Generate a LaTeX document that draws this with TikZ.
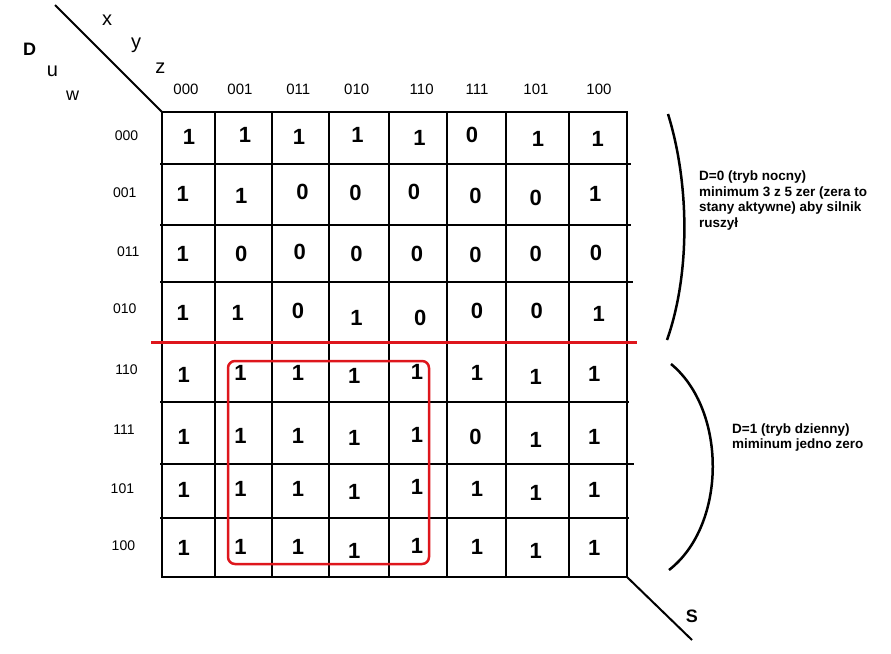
\documentclass[tikz,border=0pt]{standalone}
\usepackage{fontspec}
\setmainfont{Liberation Sans}
\definecolor{kred}{RGB}{222,22,28}
\tikzset{
  gridline/.style={line width=2pt, black},
  cellval/.style={font=\fontsize{22}{26}\selectfont\bfseries, inner sep=0pt},
  colhead/.style={font=\fontsize{15}{18}\selectfont, inner sep=0pt},
  rowhead/.style={font=\fontsize{14}{17}\selectfont, inner sep=0pt},
  varlabel/.style={font=\fontsize{20}{24}\selectfont, inner sep=0pt, anchor=base},
  boldlabel/.style={font=\fontsize{18}{22}\selectfont\bfseries, inner sep=0pt, anchor=base},
  note/.style={font=\fontsize{13.5}{15.5}\selectfont\bfseries, align=left, inner sep=0pt, anchor=base west},
  bracketline/.style={line width=2.5pt, black},
  redline/.style={line width=3pt, kred},
  redbox/.style={line width=2.5pt, kred, rounded corners=7pt},
}
\begin{document}
\begin{tikzpicture}[x=1pt, y=-1pt]
\useasboundingbox[fill=white] (0,0) rectangle (891,653);

% corners
\coordinate (tl) at (162,112);
\coordinate (br) at (627,577);
\coordinate (diagA) at (55,5);
\coordinate (diagB) at (692,640);

% grid
\draw[gridline] (tl) rectangle (br);
\foreach \gx in {215,272,329,389,447,506,569}
  \draw[gridline] (\gx,112) -- (\gx,577);
\foreach \gy/\ge in {164/631,225/631,282/633,402/629,464/634,518/629}
  \draw[gridline] (160,\gy) -- (\ge,\gy);
\draw[gridline] (160,342) -- (627,342);

% diagonals
\draw[gridline] (diagA) -- (tl);
\draw[gridline] (br) -- (diagB);

% variable labels
\node[varlabel] (lx) at (107,25.7) {x};
\node[varlabel] (ly) at (136,48.3) {y};
\node[varlabel] (lz) at (160.3,73.3) {z};
\node[boldlabel] (lD) at (29.7,55) {D};
\node[varlabel] (lu) at (52.5,76.7) {u};
\node[varlabel, font=\fontsize{18}{22}\selectfont] (lw) at (72.5,100) {w};
\node[boldlabel] (lS) at (691.8,622) {S};

% column headers
\foreach \t/\hx [count=\i] in {000/186,001/240,011/298.3,010/356.7,110/421.7,111/477,101/536,100/599}
  \node[colhead] (h\i) at (\hx,89.3) {\t};

% row headers
\foreach \t/\hx/\hy [count=\i] in {000/126.5/135.7,001/124.8/192.3,011/128.2/251.7,010/124.8/308.3,110/126.5/370,111/124.1/429.3,101/122.4/488.3,100/123.4/546}
  \node[rowhead] (r\i) at (\hx,\hy) {\t};

% cell values
\foreach \v/\cx/\cy [count=\i] in {
  1/188.9/136.7, 1/245/135, 1/299/136.7, 1/357.6/135, 1/419.6/138.3, 0/472/135, 1/538/139.3, 1/597.7/139.3,
  1/182.7/194.3, 1/241.2/196, 0/302.5/191.7, 0/355.6/193.3, 0/414/191.7, 0/475.4/196, 0/535.7/198.3, 1/595.3/194,
  1/182.7/254, 0/241.2/254, 0/299.8/251.7, 0/356.6/254, 0/416.9/254, 0/475.4/255, 0/535.7/254, 0/596/253.3,
  1/182.7/313.3, 1/237.8/312.7, 0/298/310.7, 1/356.6/318.3, 0/420.3/318.3, 0/477/310.7, 0/536.7/310.7, 1/598.7/314.3,
  1/183.7/375, 1/240.5/372.7, 1/298/372.7, 1/354.2/376, 1/416.9/371.7, 1/477/372.7, 1/535.7/377.3, 1/594.2/374,
  1/183.7/437.3, 1/240.5/436, 1/298/436, 1/354.2/438.3, 1/416.9/435, 0/475.4/436.7, 1/535.7/440, 1/594.2/436.7,
  1/183.7/490, 1/240.5/489, 1/298/489, 1/354.2/491.7, 1/416.9/487.3, 1/477/489, 1/535.7/492.7, 1/594.2/490,
  1/183.7/548.3, 1/240.5/547.3, 1/298/547.3, 1/354.2/550.7, 1/416.9/546, 1/477/547.3, 1/535.7/550.7, 1/594.2/548.3}
  \node[cellval] (c\i) at (\cx,\cy) {\v};

% red divider and group
\coordinate (redL) at (151,342);
\coordinate (redR) at (637,342);
\draw[redline] (redL) -- (redR);
\draw[redbox] (228,361) rectangle (429,564);

% brackets
\coordinate (bt1) at (668,114);
\coordinate (bb1) at (667,340);
\draw[bracketline] (bt1) .. controls (690,185) and (690,275) .. (bb1);
\coordinate (bt2) at (671,364);
\coordinate (bb2) at (669,570);
\draw[bracketline] (bt2) .. controls (727,410) and (727,525) .. (bb2);

% notes (base anchor = baseline of the last line)
\node[note] (n1) at (699,227.2) {D=0 (tryb nocny)\\minimum 3 z 5 zer (zera to\\stany aktywne) aby silnik\\ruszył};
\node[note] (n2) at (732,448.5) {D=1 (tryb dzienny)\\miminum jedno zero};
\end{tikzpicture}
\end{document}
